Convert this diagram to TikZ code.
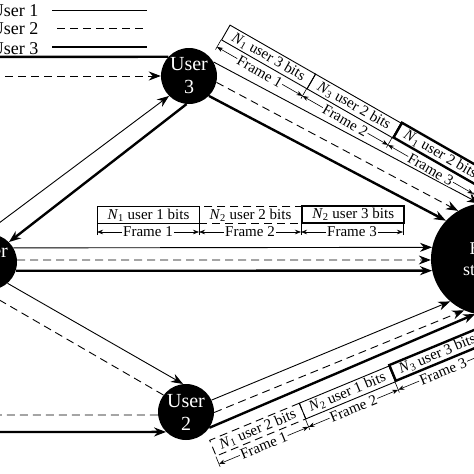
\documentclass[tikz,border=0pt]{standalone}
\usepackage{fontspec}
\setmainfont{Liberation Serif}
\usetikzlibrary{arrows.meta,positioning}
\newcommand{\nsym}[1]{\textit{N}\textsubscript{#1}}

\begin{document}
\begin{tikzpicture}[x=1pt,y=1pt,
  user/.style={circle,fill=black,text=white,inner sep=0pt,minimum size=56pt,align=center,font=\fontsize{20}{23}\selectfont},
  user one/.style={line width=0.9pt},
  user two/.style={line width=0.9pt,dash pattern=on 8pt off 5pt},
  user three/.style={line width=2.4pt},
  to node/.style={-{Stealth[length=12pt,width=9pt]}},
  bit box/.style={draw,anchor=south west,minimum width=#1,minimum height=17pt,inner sep=0pt,font=\fontsize{15}{17}\selectfont},
  frame arrow/.style={{Stealth[length=6pt,width=4.5pt]}-{Stealth[length=6pt,width=4.5pt]},line width=0.6pt},
  frame label/.style={fill=white,inner sep=1pt,font=\fontsize{15}{17}\selectfont}]

\useasboundingbox (0,0) rectangle (474,-474);
\clip (0,0) rectangle (474,-474);

% legend
\node[anchor=base east,font=\fontsize{18}{20}\selectfont] (lg1) at (42,-16) {User 1};
\node[anchor=base east,font=\fontsize{18}{20}\selectfont] (lg2) at (42,-34) {User 2};
\node[anchor=base east,font=\fontsize{18}{20}\selectfont] (lg3) at (42,-54) {User 3};
\draw[user one] (52,-10) -- (147,-10);
\draw[user two] (57,-28) -- (147,-28);
\draw[user three] (52,-47) -- (147,-47);

% users and base station
\node[user] (u1) at (-11,-262) {User\\1};
\node[user] (u2) at (186,-412) {User\\2};
\node[user] (u3) at (189,-76) {User\\3};
\node[user,minimum size=112pt,font=\fontsize{18}{21}\selectfont] (bs) at (487,-259) {Base\\station};

% links leaving the picture on the left
\coordinate (l3a) at (-60,-57);
\coordinate (l3b) at (-60,-76);
\coordinate (l2a) at (-60,-415);
\coordinate (l2b) at (-60,-432);
\draw[user three,to node] (u3.137.3) -- (l3a);
\draw[user two,to node] (l3b) -- (u3.west);
\draw[user two,to node] (u2.186.2) -- (l2a);
\draw[user three,to node] (l2b) -- (u2.225);

% links between the users
\draw[user one,to node] (u1.100) -- (u3.225);
\draw[user three,to node] (u3.265) -- (u1.45);
\draw[user one,to node] (u1.-49) -- (u2.96);
\draw[user two,to node] (u2.143.5) -- (u1.-109);

% links to the base station
\draw[user one,to node] (u1.30) -- (bs.168.7);
\draw[user two,to node] (u1.4) -- (bs.181);
\draw[user three,to node] (u1.-18.7) -- (bs.192.4);

\draw[user one,to node] (u3.30.7) -- (bs.98);
\draw[user two,to node] (u3.-13.1) -- (bs.121);
\draw[user three,to node] (u3.-45.4) -- (bs.137.9);

\draw[user one,to node] (u2.25.6) -- (bs.229.7);
\draw[user two,to node] (u2.-1.7) -- (bs.246.1);
\draw[user three,to node] (u2.-34.4) -- (bs.258);

% frames sent by user 1
\begin{scope}[shift={(97,-232)}]
\node[bit box=102pt,user one] (m1) at (0,8) {\nsym{1} user 1 bits};
\node[bit box=102pt,user two] (m2) at (102,8) {\nsym{2} user 2 bits};
\node[bit box=102pt,user three] (m3) at (204,8) {\nsym{2} user 3 bits};
\foreach \i in {1,2,3}{%
\draw[frame arrow] ({(\i-1)*102},0) -- node[frame label] {Frame \i} ({\i*102},0);
}
\foreach \x in {0,102,204,306} \draw[line width=0.6pt] (\x,-3) -- (\x,8);
\end{scope}

% frames sent by user 3
\begin{scope}[shift={(217,-47)},rotate=-29.8,transform shape]
\node[bit box=98.5pt,user one] (t1) at (0,8) {\nsym{1} user 3 bits};
\node[bit box=98.5pt,user one] (t2) at (98.5,8) {\nsym{3} user 2 bits};
\node[bit box=98.5pt,user three] (t3) at (197,8) {\nsym{1} user 2 bits};
\foreach \i in {1,2,3}{%
\draw[frame arrow] ({(\i-1)*98.5},0) -- node[frame label] {Frame \i} ({\i*98.5},0);
}
\foreach \x in {0,98.5,197,295.5} \draw[line width=0.6pt] (\x,-3) -- (\x,8);
\end{scope}

% frames sent by user 2
\begin{scope}[shift={(219,-464)},rotate=22.5,transform shape]
\node[bit box=97pt,user two] (b1) at (0,8) {\nsym{1} user 2 bits};
\node[bit box=97pt,user one] (b2) at (97,8) {\nsym{2} user 1 bits};
\node[bit box=97pt,user three] (b3) at (194,8) {\nsym{3} user 3 bits};
\foreach \i in {1,2,3}{%
\draw[frame arrow] ({(\i-1)*97},0) -- node[frame label] {Frame \i} ({\i*97},0);
}
\foreach \x in {0,97,194,291} \draw[line width=0.6pt] (\x,-3) -- (\x,8);
\end{scope}

\end{tikzpicture}
\end{document}
